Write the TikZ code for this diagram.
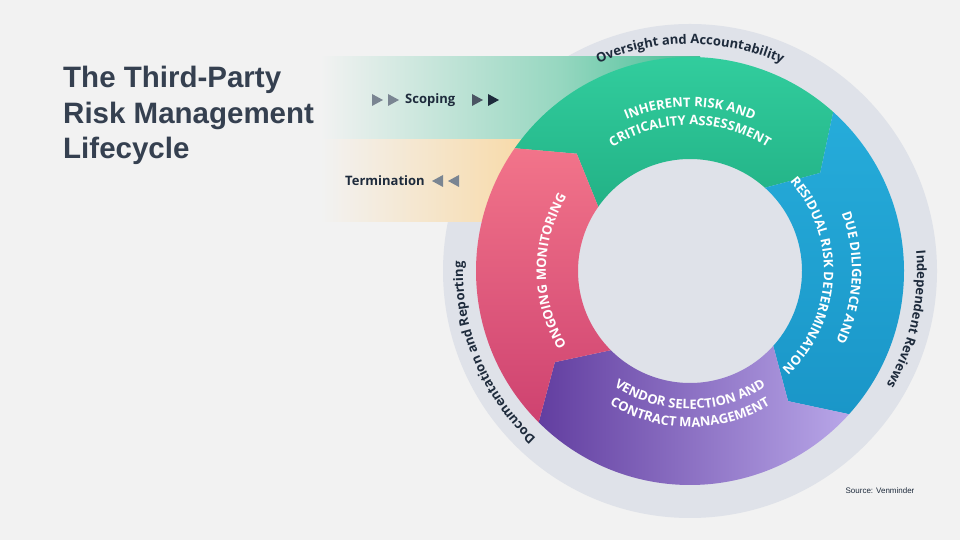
\documentclass[tikz,border=0pt]{standalone}
\usepackage{fontspec}
\setmainfont{Open Sans}
\newfontfamily\titlefont{Liberation Sans}
\usetikzlibrary{decorations.text,shapes.geometric}
\definecolor{bg}{HTML}{F2F2F2}
\definecolor{ring}{HTML}{DFE2E9}
\definecolor{ink}{HTML}{1E2B3C}
\definecolor{tri}{HTML}{7A8592}
\tikzset{
  ringtxt/.style={decorate,decoration={text along path,text align=center,
     text={|\fontsize{13}{13}\selectfont\bfseries\color{ink}|#1}}},
  segtxt/.style={decorate,decoration={text along path,text align=center,
     text={|\fontsize{13}{13}\selectfont\bfseries\color{white}|#1}}},
  arrowtri/.style={fill=#1,draw=none},
}
\newcommand\segpath[2]{(C) ++(#1:214) arc[start angle=#1,end angle=#2,radius=214]
  -- ([shift={(C)}]#2-11:163) -- ([shift={(C)}]#2:112)
  arc[start angle=#2,end angle=#1,radius=112] -- ([shift={(C)}]#1-11:163) -- cycle}
\begin{document}
\begin{tikzpicture}[x=1pt,y=1pt]
\fill[bg] (0,0) rectangle (960,540);
\useasboundingbox (0,0) rectangle (960,540);
\coordinate (C) at (690,269);
% title
\node[anchor=north west,align=left,font=\titlefont\bfseries\fontsize{29.5}{35.5}\selectfont,text=ink!90,inner sep=0] (title) at (63,474)
 {The Third-Party\\Risk Management\\Lifecycle};
% outer ring
\fill[ring] (C) circle[radius=247];
% bands
\shade[left color=bg,right color={rgb,255:red,150;green,215;blue,192}] (320,400) rectangle (560,483);
\shade[left color={rgb,255:red,150;green,215;blue,192},right color={rgb,255:red,70;green,190;blue,150}] (560,400) rectangle (700,483);
\shade[left color=bg,right color={rgb,255:red,249;green,214;blue,156}] (320,318) rectangle (560,400);
% segments
\shade[top color={rgb,255:red,50;green,206;blue,158},bottom color={rgb,255:red,28;green,166;blue,124}] \segpath{145}{48};
\shade[top color={rgb,255:red,38;green,172;blue,218},bottom color={rgb,255:red,26;green,150;blue,200}] \segpath{48}{-42};
\shade[shading angle=-45,left color={rgb,255:red,98;green,62;blue,160},right color={rgb,255:red,184;green,166;blue,232}] \segpath{-42}{-135};
\shade[top color={rgb,255:red,242;green,116;blue,138},bottom color={rgb,255:red,206;green,66;blue,112}] \segpath{-135}{-215};
% ring labels
\path[ringtxt={Oversight and Accountability}] (C) ++(125:227) arc[start angle=125,end angle=55,radius=227];
\path[ringtxt={Independent Reviews}] (C) ++(30:227) arc[start angle=30,end angle=-55,radius=227];
\path[ringtxt={Documentation and Reporting}] (C) ++(-120:227) arc[start angle=-120,end angle=-195,radius=227];
% segment labels
\path[segtxt={INHERENT RISK AND}] (C) ++(125:164) arc[start angle=125,end angle=55,radius=164];
\path[segtxt={CRITICALITY ASSESSMENT}] (C) ++(135:146) arc[start angle=135,end angle=45,radius=146];
\path[segtxt={DUE DILIGENCE AND}] (C) ++(40:162) arc[start angle=40,end angle=-45,radius=162];
\path[segtxt={RESIDUAL RISK DETERMINATION}] (C) ++(55:134) arc[start angle=55,end angle=-60,radius=134];
\path[segtxt={VENDOR SELECTION AND}] (C) ++(-135:138) arc[start angle=-135,end angle=-45,radius=138];
\path[segtxt={CONTRACT MANAGEMENT}] (C) ++(-135:156) arc[start angle=-135,end angle=-45,radius=156];
\path[segtxt={ONGOING MONITORING}] (C) ++(-145:144) arc[start angle=-145,end angle=-215,radius=144];
% band labels
\node[font=\fontsize{13}{13}\selectfont\bfseries,text=ink,anchor=west,inner sep=0] (scoping) at (405,440) {Scoping};
\node[font=\fontsize{13}{13}\selectfont\bfseries,text=ink,anchor=west,inner sep=0] (term) at (345,359) {Termination};
\fill[arrowtri=tri] (372,446) -- (383,440) -- (372,434) -- cycle;
\fill[arrowtri=tri] (388,446) -- (399,440) -- (388,434) -- cycle;
\fill[arrowtri=ink!80] (472,446) -- (483,440) -- (472,434) -- cycle;
\fill[arrowtri=ink] (488,446) -- (499,440) -- (488,434) -- cycle;
\fill[arrowtri=tri] (443,365) -- (432,359) -- (443,353) -- cycle;
\fill[arrowtri=tri] (459,365) -- (448,359) -- (459,353) -- cycle;
% source
\node[font=\titlefont\fontsize{8}{8}\selectfont,text=ink,inner sep=0] (src) at (880,49) {Source: Venminder};
\end{tikzpicture}
\end{document}
